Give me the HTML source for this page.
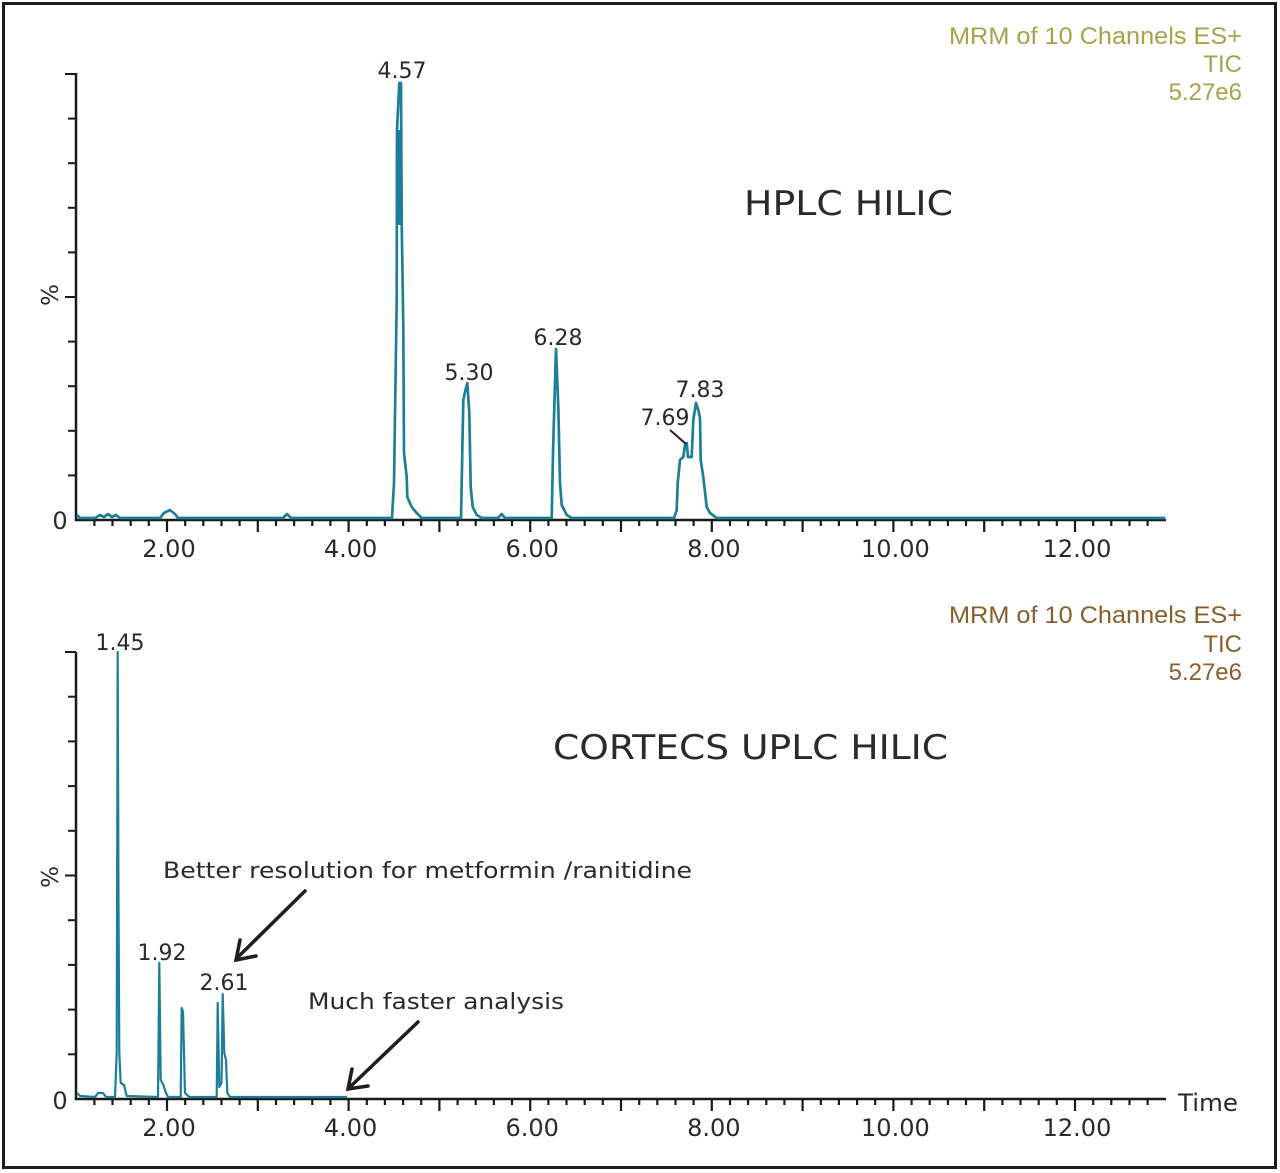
<!DOCTYPE html>
<html><head><meta charset="utf-8"><style>
html,body{margin:0;padding:0;background:#fff;}
svg{display:block;}
.dj{font-family:"DejaVu Sans","Liberation Sans",sans-serif;fill:#2a2a2a;}
.ar{font-family:"Liberation Sans",Arial,sans-serif;}
</style></head><body>
<svg width="1280" height="1173" viewBox="0 0 1280 1173" xmlns="http://www.w3.org/2000/svg">
<rect x="0" y="0" width="1280" height="1173" fill="#fff"/>
<rect x="3.5" y="3.5" width="1272" height="1164" fill="none" stroke="#1e1e1e" stroke-width="3"/>

<!-- headers -->
<g class="ar" font-size="24" text-anchor="end" fill="#a8a24a">
<text x="1242" y="44" textLength="293" lengthAdjust="spacingAndGlyphs">MRM of 10 Channels ES+</text>
<text x="1242" y="72">TIC</text>
<text x="1242" y="100">5.27e6</text>
</g>
<g class="ar" font-size="24" text-anchor="end" fill="#8a5e2c">
<text x="1242" y="623" textLength="293" lengthAdjust="spacingAndGlyphs">MRM of 10 Channels ES+</text>
<text x="1242" y="652">TIC</text>
<text x="1242" y="680">5.27e6</text>
</g>

<!-- titles -->
<text class="dj" x="744" y="215" font-size="34" textLength="209" lengthAdjust="spacingAndGlyphs">HPLC HILIC</text>
<text class="dj" x="553" y="759" font-size="34" textLength="395" lengthAdjust="spacingAndGlyphs">CORTECS UPLC HILIC</text>

<!-- axes -->
<g stroke="#1a1a1a" stroke-width="2.5" fill="none">
<line x1="76" y1="73" x2="76" y2="521"/>
<line x1="75" y1="520" x2="1166" y2="520"/>
<line x1="76" y1="652" x2="76" y2="1100"/>
<line x1="75" y1="1099" x2="1166" y2="1099"/>
</g>
<g stroke="#1a1a1a" stroke-width="2">
<line x1="65" y1="74" x2="76" y2="74"/>
<line x1="68" y1="118.6" x2="76" y2="118.6"/>
<line x1="68" y1="163.2" x2="76" y2="163.2"/>
<line x1="68" y1="207.8" x2="76" y2="207.8"/>
<line x1="68" y1="252.4" x2="76" y2="252.4"/>
<line x1="65" y1="297" x2="76" y2="297"/>
<line x1="68" y1="341.6" x2="76" y2="341.6"/>
<line x1="68" y1="386.2" x2="76" y2="386.2"/>
<line x1="68" y1="430.8" x2="76" y2="430.8"/>
<line x1="68" y1="475.4" x2="76" y2="475.4"/>
</g>
<g stroke="#1a1a1a" stroke-width="2">
<line x1="65" y1="652" x2="76" y2="652"/>
<line x1="68" y1="696.7" x2="76" y2="696.7"/>
<line x1="68" y1="741.4" x2="76" y2="741.4"/>
<line x1="68" y1="786.1" x2="76" y2="786.1"/>
<line x1="68" y1="830.8" x2="76" y2="830.8"/>
<line x1="65" y1="875.5" x2="76" y2="875.5"/>
<line x1="68" y1="920.2" x2="76" y2="920.2"/>
<line x1="68" y1="964.9" x2="76" y2="964.9"/>
<line x1="68" y1="1009.6" x2="76" y2="1009.6"/>
<line x1="68" y1="1054.3" x2="76" y2="1054.3"/>
</g>

<g class="dj" font-size="24">
<text x="60" y="529" text-anchor="middle">0</text>
<text x="60" y="1109" text-anchor="middle">0</text>
<g text-anchor="middle">
<text x="169" y="557">2.00</text>
<text x="350.6" y="557">4.00</text>
<text x="532.2" y="557">6.00</text>
<text x="713.8" y="557">8.00</text>
<text x="895.4" y="557">10.00</text>
<text x="1077" y="557">12.00</text>
<text x="169" y="1136">2.00</text>
<text x="350.6" y="1136">4.00</text>
<text x="532.2" y="1136">6.00</text>
<text x="713.8" y="1136">8.00</text>
<text x="895.4" y="1136">10.00</text>
<text x="1077" y="1136">12.00</text>
</g>
<text x="1178" y="1111" textLength="60" lengthAdjust="spacingAndGlyphs">Time</text>
</g>
<g class="dj" font-size="23" text-anchor="middle">
<text transform="translate(58,295) rotate(-90)">%</text>
<text transform="translate(58,877) rotate(-90)">%</text>
</g>

<!-- traces -->
<polyline fill="none" stroke="#1d7e9a" stroke-width="2.7" stroke-linejoin="round" points="
77,515 80,518 95,518 100,515 104,517 108,514 112,517 116,515 120,518 160,518 164,513 170,510 175,514 178,518
283,518 287,514 291,518 392,518 394,483 396.7,300 397,130 399.3,83 401,83 401.7,223 403.3,327 404,453 406.7,477 407.3,497 411.7,507 416.7,513 421.7,518
461,518 463.3,400 465,392 467.3,383 469.3,413 470.7,487 472.7,507 476.7,515 482,518 498,518 501.7,514 505,518
551.7,518 553,453 554.5,400 556,349 558.3,407 560,483 561.7,505 566.7,515 571.7,518 643,518 674,518
676.7,510 677.7,483 680,460 683.3,457 685,445 686.7,443 688,457 691.7,457 693.3,420 696,403 698.3,410 700,418 700.7,460 703.3,477 706.7,507 710,513 716.7,518 1165,518"/>
<polygon fill="#1d7e9a" points="396,130 401.7,130 401.7,225 396.5,225"/>
<polyline fill="none" stroke="#1d7e9a" stroke-width="2.2" stroke-linejoin="round" points="
77,1093 80,1096 95,1097 98,1093 103,1093 106,1097 115,1097 116.7,1053 117.7,652 118.5,900 119.3,1053 120.7,1083 124,1085 126.7,1096
158,1097 159.3,963 160.7,1080 163,1084 166,1093 168,1097 180.7,1097 181.7,1008 183,1012 185,1093 188,1096 190,1097
216.7,1097 217.7,1003 219.3,1087 221.5,1083 222.7,994 224.3,1053 226,1060 227.3,1093 230,1097 347,1097"/>

<!-- peak labels -->
<g class="dj" font-size="22" text-anchor="middle">
<text x="402" y="78">4.57</text>
<text x="469" y="380">5.30</text>
<text x="558" y="345">6.28</text>
<text x="665" y="425">7.69</text>
<text x="700" y="397">7.83</text>
<text x="120" y="650">1.45</text>
<text x="162" y="960">1.92</text>
<text x="224" y="990">2.61</text>
</g>
<line x1="670" y1="430" x2="686" y2="444" stroke="#222" stroke-width="2"/>

<!-- annotations -->
<g class="dj" font-size="22">
<text x="163" y="878" textLength="529" lengthAdjust="spacingAndGlyphs">Better resolution for metformin /ranitidine</text>
<text x="308" y="1009" textLength="256" lengthAdjust="spacingAndGlyphs">Much faster analysis</text>
</g>
<g stroke="#1e1e1e" stroke-width="3.5" fill="none" stroke-linecap="round">
<line x1="305" y1="891" x2="238" y2="957"/>
<polyline points="240,940 236,960 256,956" stroke-linejoin="miter"/>
<line x1="418" y1="1022" x2="351" y2="1086"/>
<polyline points="352,1069 348,1089 368,1086" stroke-linejoin="miter"/>
</g>

<g stroke="#1a1a1a" stroke-width="2.2">
<path d="
M94.4 520v6 M112.5 520v6 M130.7 520v6 M148.8 520v6 M167 520v12
M185.2 520v6 M203.3 520v6 M221.5 520v6 M239.6 520v6 M257.8 520v12
M276 520v6 M294.1 520v6 M312.3 520v6 M330.4 520v6 M348.6 520v12
M366.8 520v6 M384.9 520v6 M403.1 520v6 M421.2 520v6 M439.4 520v12
M457.6 520v6 M475.7 520v6 M493.9 520v6 M512 520v6 M530.2 520v12
M548.4 520v6 M566.5 520v6 M584.7 520v6 M602.8 520v6 M621 520v12
M639.2 520v6 M657.3 520v6 M675.5 520v6 M693.6 520v6 M711.8 520v12
M730 520v6 M748.1 520v6 M766.3 520v6 M784.4 520v6 M802.6 520v12
M820.8 520v6 M838.9 520v6 M857.1 520v6 M875.2 520v6 M893.4 520v12
M911.6 520v6 M929.7 520v6 M947.9 520v6 M966 520v6 M984.2 520v12
M1002.4 520v6 M1020.5 520v6 M1038.7 520v6 M1056.8 520v6 M1075 520v12
M1093.2 520v6 M1111.3 520v6 M1129.5 520v6 M1147.6 520v6
"/>
<path d="
M94.4 1099v6 M112.5 1099v6 M130.7 1099v6 M148.8 1099v6 M167 1099v12
M185.2 1099v6 M203.3 1099v6 M221.5 1099v6 M239.6 1099v6 M257.8 1099v12
M276 1099v6 M294.1 1099v6 M312.3 1099v6 M330.4 1099v6 M348.6 1099v12
M366.8 1099v6 M384.9 1099v6 M403.1 1099v6 M421.2 1099v6 M439.4 1099v12
M457.6 1099v6 M475.7 1099v6 M493.9 1099v6 M512 1099v6 M530.2 1099v12
M548.4 1099v6 M566.5 1099v6 M584.7 1099v6 M602.8 1099v6 M621 1099v12
M639.2 1099v6 M657.3 1099v6 M675.5 1099v6 M693.6 1099v6 M711.8 1099v12
M730 1099v6 M748.1 1099v6 M766.3 1099v6 M784.4 1099v6 M802.6 1099v12
M820.8 1099v6 M838.9 1099v6 M857.1 1099v6 M875.2 1099v6 M893.4 1099v12
M911.6 1099v6 M929.7 1099v6 M947.9 1099v6 M966 1099v6 M984.2 1099v12
M1002.4 1099v6 M1020.5 1099v6 M1038.7 1099v6 M1056.8 1099v6 M1075 1099v12
M1093.2 1099v6 M1111.3 1099v6 M1129.5 1099v6 M1147.6 1099v6
"/>
</g>
</svg>
</body></html>
